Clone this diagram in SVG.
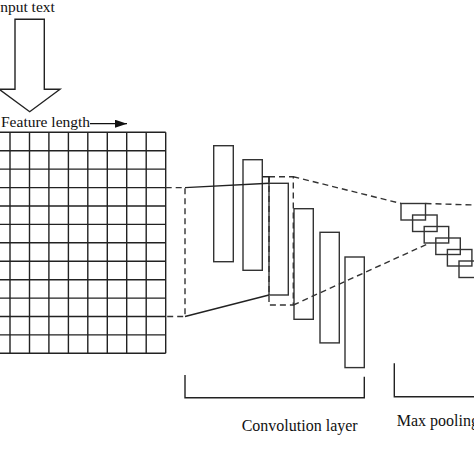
<svg xmlns="http://www.w3.org/2000/svg" width="474" height="474" viewBox="0 0 474 474">
<style>
.ln{stroke:#222;stroke-width:1.4;fill:none}
.bar{stroke:#333;stroke-width:1.4;fill:none}
.dash{stroke:#333;stroke-width:1.4;fill:none;stroke-dasharray:6 4}
.t{font-family:"Liberation Serif","Times New Roman",serif;fill:#111}
</style>
<defs>
<marker id="ah" viewBox="0 0 12 8" refX="12" refY="4" markerWidth="12" markerHeight="8" markerUnits="userSpaceOnUse" orient="auto">
<path d="M0,0 L12,4 L0,8 z" fill="#111"/>
</marker>
</defs>
<rect width="474" height="474" fill="#fff"/>
<g id="input-text">
<text class="t" x="-5" y="12" font-size="15.5">Input text</text>
<path class="ln" d="M15,19.3 H44.3 V89.3 H60 L29.7,111.7 L-0.7,89.3 H15 Z"/>
</g>
<g id="feature-length">
<text class="t" x="1" y="127" font-size="15.5">Feature length</text>
<line x1="90" y1="123.7" x2="127" y2="123.7" stroke="#111" stroke-width="1.3" marker-end="url(#ah)"/>
</g>
<g id="grid" class="ln">
<path d="M-9.5,132.3V353.3 M10,132.3V353.3 M29.5,132.3V353.3 M48.9,132.3V353.3 M68.4,132.3V353.3 M87.8,132.3V353.3 M107.3,132.3V353.3 M126.7,132.3V353.3 M146.2,132.3V353.3 M165.7,132.3V353.3"/>
<path d="M-10,132.3H165.7 M-10,150.7H165.7 M-10,169.1H165.7 M-10,187.6H165.7 M-10,206H165.7 M-10,224.4H165.7 M-10,242.8H165.7 M-10,261.2H165.7 M-10,279.7H165.7 M-10,298.1H165.7 M-10,316.5H165.7 M-10,334.9H165.7 M-10,353.3H165.7"/>
</g>
<g id="conv-bars" class="bar">
<rect id="bar1" x="213.7" y="145.7" width="19.6" height="116"/>
<rect id="bar2" x="243" y="159.7" width="19.3" height="110.6"/>
<rect id="bar3" x="269" y="183.3" width="19.3" height="111.7"/>
<rect id="bar4" x="294" y="208.7" width="19.3" height="110.6"/>
<rect id="bar5" x="320" y="232.3" width="19.3" height="110.6"/>
<rect id="bar6" x="345" y="257" width="19.3" height="110.6"/>
</g>
<g id="pooling" class="bar">
<rect x="401" y="203.5" width="24.5" height="16.5"/>
<rect x="412.6" y="215" width="24.5" height="16.5"/>
<rect x="424.2" y="226.5" width="24.5" height="16.5"/>
<rect x="435.8" y="238" width="24.5" height="16.5"/>
<rect x="447.4" y="249.5" width="24.5" height="16.5"/>
<rect x="459" y="261" width="24.5" height="16.5"/>
</g>
<g id="connectors">
<path class="dash" d="M165.7,187.6 H185 V316.5 H165.7"/>
<path class="ln" d="M185,187.6 L269,183.3 M185,316.5 L269,295"/>
<rect class="dash" x="269" y="176.7" width="24.3" height="128.3"/>
<path class="ln" d="M262.3,176.7 H269 V183.3"/>
<path class="dash" d="M293.3,176.7 L401,203.5 M425.5,203.5 L474,205 M293.3,305 L430,242.8"/>
</g>
<g id="brackets" class="ln">
<path d="M185,375 V397.7 H364.3 V376.7"/>
<path d="M394.3,363.3 V396.7 H474"/>
</g>
<g id="labels">
<text class="t" x="241.7" y="431" font-size="16">Convolution layer</text>
<text class="t" x="396.7" y="425.5" font-size="16">Max pooling</text>
</g>
</svg>
